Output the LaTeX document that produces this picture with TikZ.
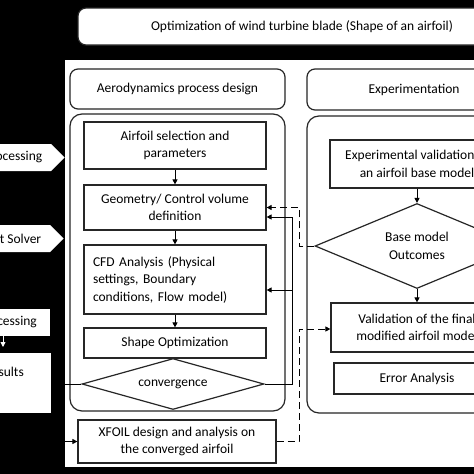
\documentclass[tikz,border=0pt]{standalone}
\usepackage{fontspec}
\setmainfont{Carlito}
\usetikzlibrary{shapes.geometric,shapes.symbols,arrows.meta}

\tikzstyle{bS}=[rectangle,draw=black!85,line width=1.2pt,fill=white,inner sep=2pt,font=\fontsize{13.5}{17.5}\selectfont,align=center]
\tikzstyle{rS}=[bS,rounded corners=8pt]
\tikzstyle{cS}=[draw=black!85,line width=1.2pt,rounded corners=12pt,fill=white]
\tikzstyle{dS}=[diamond,draw=black!85,line width=1.2pt,fill=white,inner sep=0pt,font=\fontsize{13.5}{17.5}\selectfont,align=center]
\tikzstyle{sS}=[signal,signal to=east,fill=white,inner xsep=9pt,inner ysep=2pt,minimum height=27pt,font=\fontsize{13.5}{17.5}\selectfont]
\tikzstyle{wS}=[rectangle,fill=white,font=\fontsize{13.5}{17.5}\selectfont]
\tikzstyle{eS}=[draw=black,line width=0.9pt,-{Triangle[length=5pt,width=5pt]}]
\tikzstyle{eD}=[eS,dash pattern=on 7pt off 4pt]
\tikzstyle{eL}=[draw=black,line width=0.9pt]

\begin{document}
\begin{tikzpicture}[x=1pt,y=-1pt]
                \useasboundingbox (0,0) rectangle (474,474);
                \fill[black] (0,0) rectangle (474,474);
                \fill[white] (65,60) rectangle (480,467);
                % title and headers
                \draw (302,26.5) node[rS,minimum width=448pt,minimum height=37pt] (title) {Optimization of wind turbine blade (Shape of an airfoil)};
                \draw (177.5,89) node[rS,minimum width=215pt,minimum height=40pt] (aero) {Aerodynamics process design};
                \draw (414,89.5) node[rS,minimum width=214pt,minimum height=41pt] (expt) {Experimentation};
                \draw (177.5,262.5) node[cS,minimum width=215pt,minimum height=297pt] (lbox) {};
                \draw (414,264.5) node[cS,minimum width=214pt,minimum height=297pt] (rbox) {};
                % left column
                \draw (175,145.5) node[bS,minimum width=182pt,minimum height=47pt] (sel) {Airfoil selection and\\parameters};
                \draw (175,207.5) node[bS,minimum width=182pt,minimum height=45pt] (geo) {Geometry/ Control volume\\definition};
                \draw (175,279.5) node[bS,minimum width=182pt,minimum height=69pt,text width=164pt,align=left] (cfd) {CFD Analysis (Physical\\settings, Boundary\\conditions, Flow model)};
                \draw (175,343) node[bS,minimum width=182pt,minimum height=30pt] (opt) {Shape Optimization};
                \draw (173,384) node[dS,minimum width=182pt,minimum height=51pt,aspect=3.5] (conv) {convergence};
                \draw (177,441.5) node[bS,minimum width=198pt,minimum height=43pt] (xfoil) {XFOIL design and analysis on\\the converged airfoil};
                % right column
                \draw (417,164) node[bS,minimum width=174pt,minimum height=48pt] (expv) {Experimental validation of\\an airfoil base model};
                \draw (417,246) node[dS,minimum width=204pt,minimum height=85pt,aspect=2.4] (base) {Base model\\Outcomes};
                \draw (417,327.5) node[bS,minimum width=172pt,minimum height=49pt] (valid) {Validation of the final\\modified airfoil model};
                \draw (417,378.5) node[bS,minimum width=166pt,minimum height=31pt] (err) {Error Analysis};
                % left margin
                \draw (65,157.5) node[sS,anchor=east] (pre) {Pre-processing};
                \draw (64,238.5) node[sS,anchor=east] (solv) {Fluent Solver};
                \draw (50,322.5) node[wS,anchor=east,minimum height=27pt,inner xsep=13pt] (post) {Post-processing};
                \draw (51,353) node[wS,anchor=north east,inner xsep=27pt,inner ysep=8pt,text height=15pt,text depth=29pt] (res) {Results};
                \coordinate (pw) at (3,347);
                \coordinate (rA) at (292,217);
                \coordinate (rB) at (292,290);
                \coordinate (dA) at (299,207.5);
                \coordinate (dB) at (299,329);
                \draw[eS,white] (post.south -| pw) -- (pw);
                \path
                    (sel) edge[eS] (geo)
                    (geo) edge[eS] (cfd)
                    (cfd) edge[eS] (opt)
                    (expv) edge[eS] (base)
                    (base) edge[eS] (valid)
                ;
                \draw[eL] (conv.east) -| (rA);
                \draw[eS] (rA) -- (rA -| geo.east);
                \draw[eS] (rB) -- (rB -| cfd.east);
                \draw[eD] (base.west) -| (dA) -- (geo.east);
                \draw[eD] (xfoil.east) -| (dB) -- (dB -| valid.west);
                \draw[eL] (conv.west) -- (conv.west -| res.east);
                \draw[eS] (res.south) |- (xfoil.west);
        \end{tikzpicture}
\end{document}
